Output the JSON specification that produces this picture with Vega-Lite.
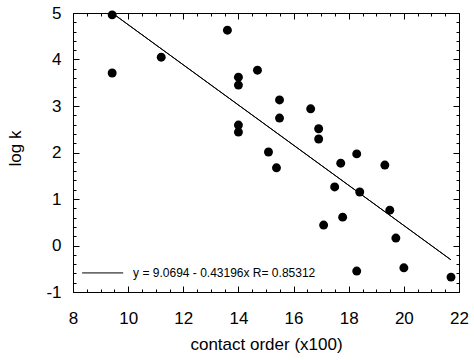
{
  "$schema": "https://vega.github.io/schema/vega-lite/v6.json",
  "autosize": "none",
  "padding": {"left": 73, "top": 13, "right": 15, "bottom": 68},
  "width": 386,
  "height": 279,
  "background": "white",
  "config": {
    "view": {"stroke": "black", "strokeWidth": 1},
    "font": "Liberation Sans"
  },
  "datasets": {
    "pts": [
      {"co": 9.42, "logk": 4.96}, {"co": 9.42, "logk": 3.71}, {"co": 11.2, "logk": 4.05},
      {"co": 13.6, "logk": 4.63}, {"co": 14.0, "logk": 3.62}, {"co": 14.0, "logk": 3.45},
      {"co": 14.69, "logk": 3.77}, {"co": 14.0, "logk": 2.59}, {"co": 14.0, "logk": 2.44},
      {"co": 15.49, "logk": 3.13}, {"co": 15.49, "logk": 2.74}, {"co": 16.62, "logk": 2.94},
      {"co": 16.91, "logk": 2.51}, {"co": 16.91, "logk": 2.29}, {"co": 15.09, "logk": 2.01},
      {"co": 15.38, "logk": 1.67}, {"co": 17.71, "logk": 1.77}, {"co": 18.29, "logk": 1.97},
      {"co": 19.31, "logk": 1.73}, {"co": 17.49, "logk": 1.26}, {"co": 18.4, "logk": 1.15},
      {"co": 19.49, "logk": 0.76}, {"co": 17.09, "logk": 0.44}, {"co": 17.78, "logk": 0.61},
      {"co": 19.71, "logk": 0.16}, {"co": 18.29, "logk": -0.55}, {"co": 20.0, "logk": -0.48},
      {"co": 21.71, "logk": -0.68}
    ],
    "fit": [{"co": 9.42, "logk": 5.0}, {"co": 21.71, "logk": -0.309}],
    "leg": [{"x1": 8.33, "x2": 9.82, "y": -0.59, "tx": 10.18, "label": "y = 9.0694 - 0.43196x R= 0.85312"}]
  },
  "layer": [
    {
      "data": {"name": "pts"},
      "mark": {"type": "circle", "color": "black", "opacity": 1, "size": 80},
      "encoding": {
        "x": {"field": "co", "type": "quantitative", "scale": {"domain": [8, 22], "nice": false, "zero": false},
          "axis": {"orient": "bottom", "grid": false, "domain": false, "ticks": false, "values": [8, 10, 12, 14, 16, 18, 20, 22], "labelFont": "Liberation Sans", "labelColor": "black", "labelFontSize": 17, "labelPadding": 18, "labelFlush": false,
            "title": "contact order (x100)", "titleFont": "Liberation Sans", "titleColor": "black", "titleFontWeight": "normal", "titleFontSize": 17, "titleY": 57, "titleBaseline": "alphabetic"}},
        "y": {"field": "logk", "type": "quantitative", "scale": {"domain": [-1, 5], "nice": false, "zero": false},
          "axis": {"orient": "left", "grid": false, "domain": false, "ticks": false, "values": [-1, 0, 1, 2, 3, 4, 5], "labelFont": "Liberation Sans", "labelColor": "black", "labelFontSize": 17, "labelPadding": 12, "labelFlush": false, "labelExpr": "'' + datum.value",
            "title": "log k", "titleFont": "Liberation Sans", "titleColor": "black", "titleFontWeight": "normal", "titleFontSize": 17, "titleX": -53, "titleY": 135, "titleBaseline": "alphabetic", "titleAngle": -90}}
      }
    },
    {
      "data": {"name": "fit"},
      "mark": {"type": "line", "color": "black", "strokeWidth": 1},
      "encoding": {
        "x": {"field": "co", "type": "quantitative", "scale": {"domain": [8, 22], "nice": false, "zero": false},
          "axis": {"orient": "bottom", "grid": false, "domainOpacity": 0, "labels": false, "title": "t", "titleOpacity": 0, "values": [8, 10, 12, 14, 16, 18, 20, 22], "tickColor": "black", "tickSize": 6, "offset": -6}},
        "y": {"field": "logk", "type": "quantitative", "scale": {"domain": [-1, 5], "nice": false, "zero": false},
          "axis": {"orient": "left", "grid": false, "domainOpacity": 0, "labels": false, "title": "t", "titleOpacity": 0, "values": [-1, 0, 1, 2, 3, 4, 5], "tickColor": "black", "tickSize": 6, "offset": -6}}
      }
    },
    {
      "data": {"name": "fit"},
      "mark": {"type": "line", "color": "black", "strokeWidth": 1},
      "encoding": {
        "x": {"field": "co", "type": "quantitative", "scale": {"domain": [8, 22], "nice": false, "zero": false},
          "axis": {"orient": "top", "grid": false, "domainOpacity": 0, "labels": false, "title": "t", "titleOpacity": 0, "values": [8, 10, 12, 14, 16, 18, 20, 22], "tickColor": "black", "tickSize": 6, "offset": -6}},
        "y": {"field": "logk", "type": "quantitative", "scale": {"domain": [-1, 5], "nice": false, "zero": false},
          "axis": {"orient": "right", "grid": false, "domainOpacity": 0, "labels": false, "title": "t", "titleOpacity": 0, "values": [-1, 0, 1, 2, 3, 4, 5], "tickColor": "black", "tickSize": 6, "offset": -6}}
      }
    },
    {
      "data": {"name": "leg"},
      "mark": {"type": "rule", "color": "black", "strokeWidth": 1},
      "encoding": {
        "x": {"field": "x1", "type": "quantitative", "scale": {"domain": [8, 22], "nice": false, "zero": false},
          "axis": {"orient": "bottom", "grid": false, "domainOpacity": 0, "labels": false, "title": "t", "titleOpacity": 0, "values": [8.5, 9, 9.5, 10.5, 11, 11.5, 12.5, 13, 13.5, 14.5, 15, 15.5, 16.5, 17, 17.5, 18.5, 19, 19.5, 20.5, 21, 21.5], "tickColor": "black", "tickSize": 3, "offset": -3}},
        "x2": {"field": "x2"},
        "y": {"field": "y", "type": "quantitative", "scale": {"domain": [-1, 5], "nice": false, "zero": false},
          "axis": {"orient": "left", "grid": false, "domainOpacity": 0, "labels": false, "title": "t", "titleOpacity": 0, "values": [-0.8, -0.6, -0.4, -0.2, 0.2, 0.4, 0.6, 0.8, 1.2, 1.4, 1.6, 1.8, 2.2, 2.4, 2.6, 2.8, 3.2, 3.4, 3.6, 3.8, 4.2, 4.4, 4.6, 4.8], "tickColor": "black", "tickSize": 3, "offset": -3}}
      }
    },
    {
      "data": {"name": "leg"},
      "mark": {"type": "text", "color": "black", "fontSize": 12, "align": "left", "baseline": "middle", "font": "Liberation Sans"},
      "encoding": {
        "x": {"field": "tx", "type": "quantitative", "scale": {"domain": [8, 22], "nice": false, "zero": false},
          "axis": {"orient": "top", "grid": false, "domainOpacity": 0, "labels": false, "title": "t", "titleOpacity": 0, "values": [8.5, 9, 9.5, 10.5, 11, 11.5, 12.5, 13, 13.5, 14.5, 15, 15.5, 16.5, 17, 17.5, 18.5, 19, 19.5, 20.5, 21, 21.5], "tickColor": "black", "tickSize": 3, "offset": -3}},
        "y": {"field": "y", "type": "quantitative", "scale": {"domain": [-1, 5], "nice": false, "zero": false},
          "axis": {"orient": "right", "grid": false, "domainOpacity": 0, "labels": false, "title": "t", "titleOpacity": 0, "values": [-0.8, -0.6, -0.4, -0.2, 0.2, 0.4, 0.6, 0.8, 1.2, 1.4, 1.6, 1.8, 2.2, 2.4, 2.6, 2.8, 3.2, 3.4, 3.6, 3.8, 4.2, 4.4, 4.6, 4.8], "tickColor": "black", "tickSize": 3, "offset": -3}},
        "text": {"field": "label"}
      }
    }
  ],
  "resolve": {"scale": {"x": "independent", "y": "independent"}, "axis": {"x": "independent", "y": "independent"}}
}
